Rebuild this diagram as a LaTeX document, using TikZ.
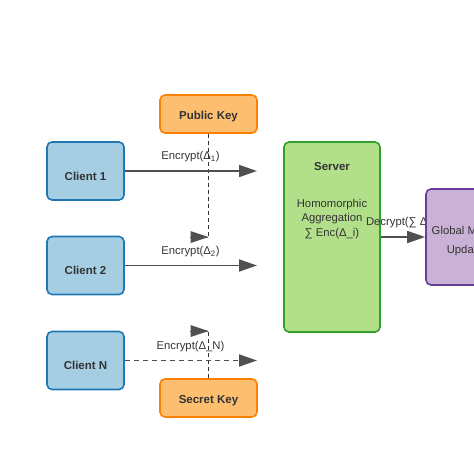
\documentclass[tikz,border=0pt]{standalone}
\usepackage{fontspec}
\setmainfont{Liberation Sans}
\usetikzlibrary{arrows.meta}
\definecolor{clientfill}{HTML}{A6CEE3}
\definecolor{clientline}{HTML}{1F78B4}
\definecolor{keyfill}{HTML}{FDBF6F}
\definecolor{keyline}{HTML}{FF7F00}
\definecolor{serverfill}{HTML}{B2DF8A}
\definecolor{serverline}{HTML}{33A02C}
\definecolor{globalfill}{HTML}{CAB2D6}
\definecolor{globalline}{HTML}{6A3D9A}
\definecolor{arrowgray}{HTML}{505050}
\definecolor{textgray}{HTML}{333333}
\begin{document}
\begin{tikzpicture} [x=1pt,y=-1pt,every node/.style={align=center,text=textgray,font=\fontsize{11.3}{14.5}\selectfont},box/.style={rounded corners=5pt,line width=1.6pt,inner sep=0pt},clientbox/.style={box,draw=clientline,fill=clientfill,minimum width=77pt,minimum height=58pt,text height=18pt,text depth=0pt,font=\fontsize{11.5}{14.5}\selectfont\bfseries},keybox/.style={box,draw=keyline,fill=keyfill,minimum width=97pt,minimum height=38pt,text height=10pt,text depth=0pt,font=\fontsize{11.5}{14.5}\selectfont\bfseries},flow/.style={draw=arrowgray,line width=1.8pt,-{Triangle[length=18pt,width=12pt]}},keypath/.style={draw=textgray,line width=1.8pt,dash pattern=on 4pt off 3pt},tiponly/.style={draw=arrowgray,fill=arrowgray,line width=0pt,-{Triangle[length=18pt,width=12pt]}}]
			\useasboundingbox (0,0) rectangle (474,474);
			\clip (0,0) rectangle (474,474);
			\node [keybox] (pubkey) at (208.5,114) {Public Key};
			\node [keybox] (seckey) at (208.5,398) {Secret Key};
			\node [clientbox] (client1) at (85.5,171) {Client 1};
			\node [clientbox] (client2) at (85.5,265.5) {Client 2};
			\node [clientbox] (clientn) at (85.5,360.5) {Client N};
			\node [box,draw=serverline,fill=serverfill,minimum width=96pt,minimum height=190pt] (server) at (332,237) {};
			\node [font=\fontsize{11.5}{14.5}\selectfont\bfseries] (servertitle) at (332,167) {Server};
			\node (servertext) at (332,219) {Homomorphic\\Aggregation\\∑ Enc(Δ\_i)};
			\coordinate (c1end) at (257,171);
			\coordinate (c2end) at (257,265.5);
			\coordinate (cnend) at (257,360.5);
			\coordinate (pubend) at (208.5,237);
			\coordinate (secend) at (208.5,331);
			\draw [keypath] (pubkey) -- (pubend);
			\draw [tiponly] ([xshift=-1pt]pubend) -- (pubend);
			\draw [keypath] (seckey) -- (secend);
			\draw [tiponly] ([xshift=-1pt]secend) -- (secend);
			\draw [flow] (client1) -- (c1end);
			\draw [flow] (client2) -- (c2end);
			\draw [flow,dash pattern=on 5pt off 4pt] (clientn) -- (cnend);
			\node (enc1) at (190.5,157) {Encrypt(Δ\textsubscript{1})};
			\node (enc2) at (190.5,252) {Encrypt(Δ\textsubscript{2})};
			\node (encn) at (190.5,347) {Encrypt(Δ\_N)};
			\node (dec) at (403,223) {Decrypt(∑ Δ\_i)};
			\node [box,draw=globalline,fill=globalfill,minimum width=96pt,minimum height=96pt] (global) at (474,237) {};
			\node [font=\fontsize{11.3}{19}\selectfont] (globaltext) at (465,241.5) {Global Model\\Update};
			\draw [flow] (server.east |- global.west) -- (global.west);
		\end{tikzpicture}
\end{document}
